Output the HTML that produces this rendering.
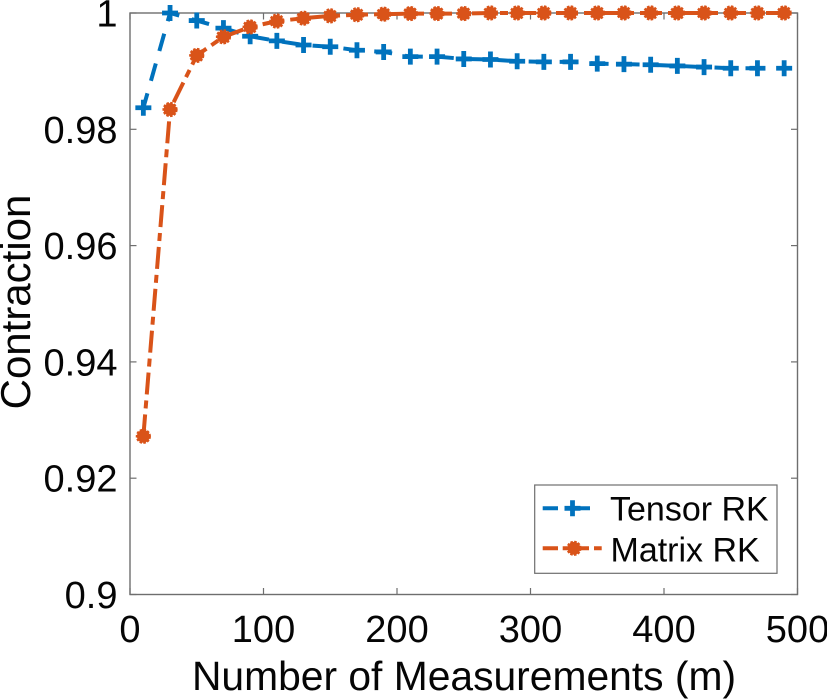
<!DOCTYPE html>
<html>
<head>
<meta charset="utf-8">
<title>Contraction chart</title>
<style>
html,body{margin:0;padding:0;background:#fff;overflow:hidden;}
svg{display:block;}
text{font-family:"Liberation Sans",Arial,sans-serif;fill:#050505;}
.tick-label{font-size:38px;}
.axis-title{font-size:40.8px;}
.legend-label{font-size:34px;}
</style>
</head>
<body>
<svg id="chart" xmlns="http://www.w3.org/2000/svg" width="827" height="699" viewBox="0 0 827 699">
  <rect x="130" y="13" width="667.5" height="581.5" fill="#fff"/>
  <g id="ticks"></g>
  <rect x="130" y="13" width="667.5" height="581.5" fill="none" stroke="#6e6e6e" stroke-width="1.4"/>
  <g id="tick-labels"></g>
  <g id="series"></g>
  <text class="axis-title" x="464" y="690" text-anchor="middle">Number of Measurements (m)</text>
  <text class="axis-title" transform="translate(30,302) rotate(-90)" text-anchor="middle" style="font-size:42px">Contraction</text>
  <g>
    <rect x="534.7" y="485" width="242.3" height="88.3" fill="#fff" stroke="#6e6e6e" stroke-width="1.2"/>
    <g id="legend-keys"></g>
    <text class="legend-label" x="610" y="520.5">Tensor RK</text>
    <text class="legend-label" x="610.5" y="561.5">Matrix RK</text>
  </g>
</svg>
<script>
const measurements = [10,30,50,70,90,110,130,150,170,190,210,230,250,270,290,310,330,350,370,390,410,430,450,470,490];
const tensorRK = [0.9837,1.0000,0.9987,0.9974,0.9960,0.9952,0.9945,0.9942,0.9936,0.9933,0.9925,0.9925,0.9921,0.9920,0.9917,0.9916,0.9916,0.9913,0.9912,0.9911,0.9909,0.9907,0.9905,0.9905,0.9905];
const matrixRK = [0.9272,0.9834,0.9927,0.9959,0.9976,0.9986,0.9991,0.9995,0.9997,0.9998,0.9999,0.9999,0.9999,1.0000,1.0000,1.0000,1.0000,1.0000,1.0000,1.0000,1.0000,1.0000,1.0000,1.0000,1.0000];
const xTicks = [0,100,200,300,400,500];
const xTickLabels = ["0","100","200","300","400","500"];
const yTicks = [0.9,0.92,0.94,0.96,0.98,1];
const yTickLabels = ["0.9","0.92","0.94","0.96","0.98","1"];

const NS = "http://www.w3.org/2000/svg";
const BLUE = "#0072bd";
const ORANGE = "#d95319";
const PLOT = {left:130,right:797.5,top:13,bottom:594.5};
const xDomain = [0,500];
const yDomain = [0.9,1];

function xScale(v){
  return PLOT.left + (v - xDomain[0]) / (xDomain[1] - xDomain[0]) * (PLOT.right - PLOT.left);
}
function yScale(v){
  return PLOT.bottom - (v - yDomain[0]) / (yDomain[1] - yDomain[0]) * (PLOT.bottom - PLOT.top);
}
function make(tag, attrs, parent){
  const el = document.createElementNS(NS, tag);
  for (const k in attrs) el.setAttribute(k, attrs[k]);
  parent.appendChild(el);
  return el;
}

const tickLayer = document.getElementById("ticks");
const labelLayer = document.getElementById("tick-labels");
const seriesLayer = document.getElementById("series");
const legendKeys = document.getElementById("legend-keys");
const tickStyle = {stroke:"#6e6e6e","stroke-width":1.2};
const TICK = 6.5;

xTicks.forEach(function(t,i){
  const x = xScale(t);
  const b = make("line", Object.assign({x1:x,x2:x,y1:PLOT.bottom,y2:PLOT.bottom-TICK}, tickStyle), tickLayer);
  
  
  const u = make("line", Object.assign({x1:x,x2:x,y1:PLOT.top,y2:PLOT.top+TICK}, tickStyle), tickLayer);
  
  
  const lab = make("text", {x:x,y:642,"text-anchor":"middle","class":"tick-label"}, labelLayer);
  lab.textContent = xTickLabels[i];
  
  
});

yTicks.forEach(function(t,i){
  const y = yScale(t);
  const l = make("line", Object.assign({x1:PLOT.left,x2:PLOT.left+TICK,y1:y,y2:y}, tickStyle), tickLayer);
  
  
  const r = make("line", Object.assign({x1:PLOT.right,x2:PLOT.right-TICK,y1:y,y2:y}, tickStyle), tickLayer);
  
  
  const lab = make("text", {x:117.5,y:y+13.5,"text-anchor":"end","class":"tick-label"}, labelLayer);
  lab.textContent = yTickLabels[i];
  
  
});

function plusMarker(cx, cy, parent, size){
  const h = size / 2;
  const d = "M" + (cx-h) + " " + cy + "H" + (cx+h) + "M" + cx + " " + (cy-h) + "V" + (cy+h);
  return make("path", {d:d,fill:"none",stroke:BLUE,"stroke-width":4.8}, parent);
}
function dotMarker(cx, cy, parent, r){
  const g = make("g", {}, parent);
  make("circle", {cx:cx,cy:cy,r:r-1,fill:ORANGE}, g);
  make("circle", {cx:cx,cy:cy,r:r-0.6,fill:"none",stroke:ORANGE,"stroke-width":1.6,"stroke-dasharray":"2.6 1.4"}, g);
  return g;
}
function linePath(ys){
  return measurements.map(function(m,i){
    return (i ? "L" : "M") + xScale(m).toFixed(2) + " " + yScale(ys[i]).toFixed(2);
  }).join("");
}

const tensorGroup = make("g", {}, seriesLayer);


const tensorLine = make("path", {d:linePath(tensorRK),fill:"none",stroke:BLUE,"stroke-width":4,"stroke-dasharray":"18 13","stroke-dashoffset":"3"}, tensorGroup);


measurements.forEach(function(m,i){
  const p = plusMarker(xScale(m), yScale(tensorRK[i]), tensorGroup, 16);
  
  
});

const matrixGroup = make("g", {}, seriesLayer);


const matrixLine = make("path", {d:linePath(matrixRK),fill:"none",stroke:ORANGE,"stroke-width":4,"stroke-dasharray":"22 6 8 6"}, matrixGroup);


measurements.forEach(function(m,i){
  const p = dotMarker(xScale(m), yScale(matrixRK[i]), matrixGroup, 7.4);
  
  
});

const keyTensor = make("path", {d:"M542.7 508.3H590",fill:"none",stroke:BLUE,"stroke-width":4,"stroke-dasharray":"15.3 9 23"}, legendKeys);


const keyTensorMark = plusMarker(572.5, 508.3, legendKeys, 16);


const keyMatrix = make("path", {d:"M542.7 548.3H601.7",fill:"none",stroke:ORANGE,"stroke-width":4,"stroke-dasharray":"15.3 4.7 26.3 5 8"}, legendKeys);


const keyMatrixMark = dotMarker(574, 548.3, legendKeys, 7.4);


</script>
</body>
</html>
